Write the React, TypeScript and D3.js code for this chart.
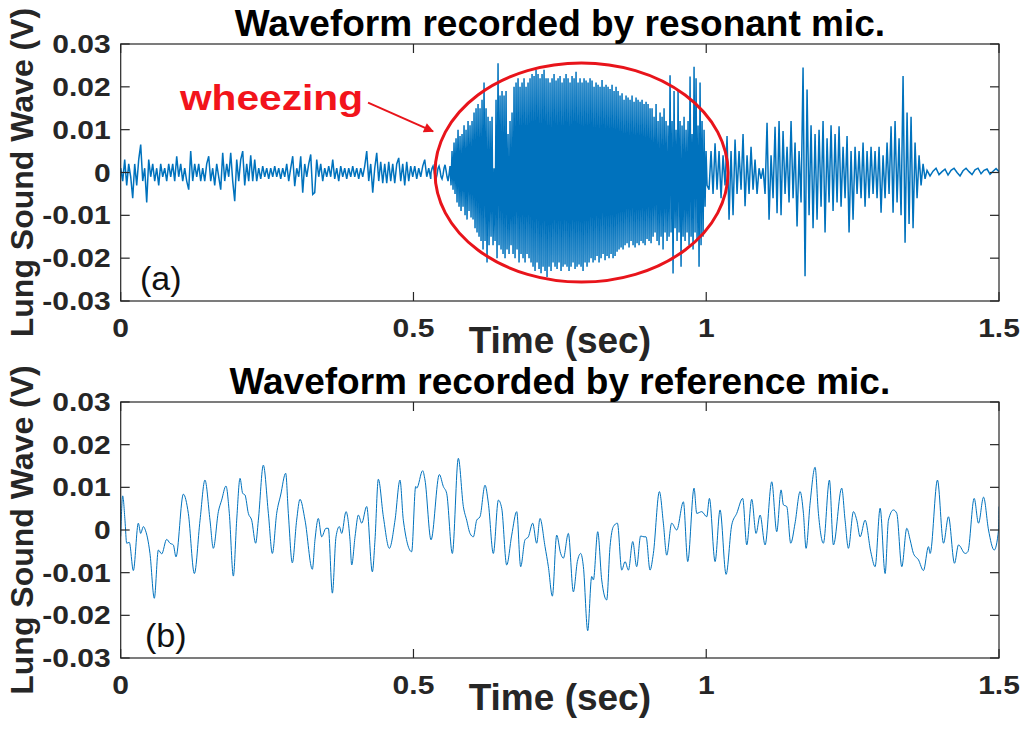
import React from "react";
import * as d3 from "d3";

// ---------- axis / text data ----------
const X_TICKS = [0, 0.5, 1, 1.5];
const X_TICK_LABELS = ["0", "0.5", "1", "1.5"];
const Y_TICKS = [0.03, 0.02, 0.01, 0, -0.01, -0.02, -0.03];
const Y_TICK_LABELS = ["0.03", "0.02", "0.01", "0", "-0.01", "-0.02", "-0.03"];
const TITLE_TOP = "Waveform recorded by resonant mic.";
const TITLE_BOTTOM = "Waveform recorded by reference mic.";
const X_LABEL = "Time (sec)";
const Y_LABEL = "Lung Sound Wave (V)";

// ---------- resonant mic (top) : sampled segments, values in mV ----------
// segment A: background breath noise, start 0 s, step 3.416 ms
const resA_start = 0;
const resA_step = 0.003416;
const resA_mV = [
  1, -2, 3, -3, 2, -1, -6, 2, -3, 3,
  6.5, -2, 1, -7, 3, -1, 2, -2, 1, -3,
  2, -1, 1, -2, 2, -1, 2, -2, 3.8, -1,
  2, -2, 1, -2, -4, 5, -2, 2, -1, 2,
  -2, 1, -2, 2, 3.8, -2, 1, -3, 2, -1,
  -4, 4.6, -2, 2, -1, 4.6, -2, -6.7, 3, -2,
  3, 5, -3, 2, -2, 4, -2, 3, -2, 1,
  -1.5, 1.5, -1, 1, -1.5, 1, -1, 1.5, -1, 1,
  -1.5, 1, -1, 2, -2, 1, 3.8, -3.2, 1, -1,
  3.8, -4.7, 2, -1, 2, 4.2, -5.1, -4.7, 3, -1,
  2, -2, 1, -1, 1.5, -1, 3, -1.5, 1, -2,
  1.5, -1, 1, -1.5, 1, -1, 1.5, -1, 1, -1.5,
  1, -1, 1.5, 5, -2, 2, -4.7, 1, 4.6, -2,
  2.5, -2.5, 2, -2.5, 2.5, -2, 2, -2.5, 2, 3.4,
  -2, 2, -3, 2.5, -2, 1.5, -1, 1.5, -1.5, 1,
  -1, 1.5, 3, -1, 1, -1.5,
];
// segment B: onset + wheeze, start 0.53 s, step 1.708 ms
const resB_start = 0.53;
const resB_step = 0.001708;
const resB_mV = [
  0, 1, 1.5, 0.5, -1, -1.5, -0.5, 1, 1.5, 0.5, -1, -1.5, -0.5, 1, 1.8, 0.5, -1, -2, -0.5, 1.5,
  -3, 5, -4, 7, -5,
  8, -7, 10, -8, 8.5, -9, 9, -8,
  11, -10, 10, -11, 12, -9, 11, -10.5, 12, -11,
  14, -13, 15, -14, 16, -15, 15, -16, 17, -18,
  21, -16, 15, -21, 13, -17, 12, -15, 13,
  -17, 1, -16, 17, -20, 25.5, -17, 18, -18, 19, -19, 18, -20, 19, -18,
  9, -19, 12, -17, 14, -19,
  20, -20, 21, -18, 22, -21, 20, -19, 21, -20, 22, -21, 20, -19, 21, -20, 22,
  -21, 23, -22, 22.5, -23, 24, -21, 23, -22.5, 22, -23.5, 23, -22, 24, -23, 22, -24.4, 22,
  -22, 21, -23, 22, -21, 23, -22, 21.5, -22.5, 22,
  -21, 22.5, -23, 21, -22, 22, -21.5, 23, -22, 22,
  -23, 21, -22, 22.5, -21, 22, -22.5, 23.5, -22, 21,
  -21.5, 22, -22, 21, -23, 22, -21, 21.5, -22, 21,
  -21, 22,
  -20, 21.5, -21, 20, -20.5, 21, -19.5, 20.5, -21, 20, -20, 21.6, -19, 20,
  -20.5, 20.5, -19.5, 20, -20, 19.5, -19, 20.5, -20, 19, -19.5, 20, -18.5, 19,
  -18, 18, -17.5, 18.5, -18, 17, -17, 18, -16.5, 17.5, -17.5, 17, -16, 18, -17, 16.5, -17.5,
  17.5, -16.5, 17, -17, 16.5, -16, 17, -16.5, 16, -17, 16.5, -15.5, 16, -16, 15, -16.5, 15,
  -15, 13, -14, 16, -16, 12, -17, 14, -15, 13, -18, 15, -14, 12, -16, 11,
  -15, 22.7, -14, 12, -23.6, 19, -13, 10, -16, 19, -14, 12, -22, 11, -15, 13, -16,
  10, -14, 12, -17, 22.4, -15, 9, -18, 24.7, -14, 22, -16, 11, -22, 21, -17, 12, -15, 10, -8,
  5, -3,
];
// segment C: bursts after the wheeze, start 1.0048 s, step 3.416 ms
const resC_start = 1.0048;
const resC_step = 0.003416;
const resC_mV = [
  -4, 5, -5, 6.8, -4, 5, -6, 4, -3, 8.5, -11, 5,
  -10, 7.7, -5, 5, -4, 9, -7.9, 4, -5, 6, -4, 3, -5,
  1, -1.5, 1,
  -5, 11.6, -11, 4, -6, 10.7, -9.5, 12, -10, 9.7,
  -5, 6, -7, 12, -6, 7, -12.6, 5, -7,
  24.5, -24.2, 19.4, -10,
  11, -13, 9, -11, 10,
  -8, 12, -14, 8, -7, 11, -9, 9,
  -7, 10.8, -8, 6, -6,
  8.5, -14, 5,
  -11, 6, -5, 5, -6, 7, -8, 5, -6,
  6, -5, 5, -6, 6, -9.4, 4, -6, 7, -5,
  10.8, -9.4, 12, -7, 8, -10,
  22.5, -16.4,
  14, -12, 13, -13,
  7, -6, 4, -3, 2, -1.5,
];
// segment D: quiet tail, start 1.3771 s, step 5.124 ms
const resD_start = 1.3771;
const resD_step = 0.005124;
const resD_mV = [
  0.5, -0.8, 0.3, 1, -0.5, 0.2, 0.8, -0.6, 0.5, 1, 0, -0.8, 0.4,
  1, 0.2, -0.5, 0.6, 1, -0.3, 0.5, 0.8, -0.4, 0.3, 0.9, 0.2,
];

// ---------- reference mic (bottom): time (ms) / value (mV) ----------
const refTimeA = [
  0, 3.4, 7.3, 10.2, 14.7, 21.6, 30.1, 34.1, 38.7, 41.5,
  50.0, 57.4, 64.3, 70.0, 78.5, 84.2, 89.9, 94.4, 107.0, 115.5,
  125.8, 135.5, 143.9, 152.5, 158.2, 166.8, 172.4, 179.8, 185.5, 192.4,
  198.1, 203.8, 208.3, 212.3, 218.0, 223.7, 230.5, 235.1, 243.6, 252.2,
  259.0, 266.4, 273.2, 281.8, 286.3, 293.1, 300.5, 306.2, 314.8, 327.3,
  331.8, 337.5, 343.2, 350.6, 354.6, 361.5, 367.7, 373.4, 377.4, 384.8,
  391.6, 394.5, 400.2, 405.9, 411.6, 420.1, 429.8, 434.3, 440.0, 448.6,
  458.8, 468.5, 477.0, 482.7, 496.9, 503.8, 505.5, 515.7, 519.7, 530.0,
  544.2, 551.0, 556.7, 566.4, 576.6, 585.2, 590.9, 596.6, 602.3, 608.0,
  613.6, 622.2, 627.9, 636.4, 645.0, 650.7, 659.2, 667.8, 676.3, 683.1,
  690.5, 696.2, 703.6, 710.4, 716.1, 724.7, 730.4, 737.2,
];
const refValA = [
  -1.5, 8.0, 2.3, -3.1, -2.9, -9.5, 1.6, -0.8, 0.8, 0.2,
  -5.5, -16.0, -4.7, -5.6, -2.2, -3.1, -3.5, -6.3, 8.4, 3.9,
  -10.2, 2.3, 11.7, 2.3, -4.3, 4.3, 7.0, 10.3, 3.9, -10.8,
  2.3, 12.1, 8.6, 8.2, 3.9, 2.3, -3.1, 2.3, 15.2, 3.9,
  -5.5, 3.9, 8.2, 13.3, 3.9, -7.7, 2.3, 7.2, 2.3, -9.2,
  -2.3, 2.7, -1.6, 0.4, 0.4, -14.8, -1.6, 0.8, -0.8, 4.3,
  -2.3, -8.2, -1.6, 3.5, 1.6, 5.5, -9.8, -2.3, 11.9, 3.1,
  -4.3, 2.3, 11.7, 2.3, -5.1, 10.2, 9.8, 13.9, 11.7, -2.3,
  13.0, 10.2, 8.6, -5.5, 16.8, 5.5, 2.3, -0.8, -1.6, 2.3,
  3.1, 10.5, 6.3, -5.5, 7.0, 5.1, -8.2, -1.2, 4.3, -8.6,
  -2.3, -1.6, 1.6, -3.1, 2.7, -3.9, -8.6, -15.5,
];
const refTimeB = [
  744.6, 751.4, 756.0, 764.5, 773.1, 779.9, 785.6, 790.2, 797.6, 804.4,
  807.3, 814.7, 821.5, 830.0, 835.7, 841.4, 848.3, 855.7, 861.4, 867.1,
  874.5, 881.2, 888.0, 893.7, 897.2, 904.0, 909.7, 920.0, 926.8, 932.5,
  941.0, 949.6, 961.0, 968.4, 979.2, 983.8, 992.3, 1000.9, 1005.4, 1015.1,
  1023.6, 1033.9, 1043.6, 1052.1, 1062.3, 1069.2, 1077.7, 1085.1, 1092.0, 1100.5,
  1111.9, 1120.4, 1127.8, 1131.8, 1137.5, 1144.3, 1151.7, 1160.3, 1166.0, 1170.5,
  1177.4, 1185.9, 1191.6, 1200.1, 1210.4, 1217.2, 1231.4, 1237.1, 1242.8, 1251.4,
  1257.1, 1262.8, 1271.3, 1281.0, 1288.4, 1297.0, 1305.5, 1311.2, 1319.7, 1325.4,
  1334.0, 1342.5, 1348.2, 1353.9, 1362.5, 1371.0, 1379.6, 1382.4, 1394.9, 1405.2,
  1413.7, 1424.0, 1430.8, 1442.2, 1446.8, 1457.6, 1465.0, 1473.6, 1482.1, 1491.8,
  1499.2, 1500,
];
const refValB = [
  -1.2, -5.5, -6.6, -0.8, -14.5, -7.4, -5.5, -8.6, -23.6, -10.9,
  -11.7, -0.4, -11.7, -16.4, -3.9, 0.8, 1.6, -9.4, -7.4, -9.4,
  -2.7, -8.6, -1.4, -1.6, -1.6, -9.4, -5.5, 9.0, 1.6, -5.9,
  1.6, 0.0, 6.6, -7.4, 9.8, 3.9, 4.3, 3.1, 7.4, -7.4,
  4.7, -10.4, 1.2, 3.9, 7.4, -3.5, 7.2, -0.8, 3.5, -3.5,
  11.3, -0.4, 9.4, 5.9, 5.5, -3.1, 1.6, 9.0, 3.9, -4.3,
  6.3, 14.7, 3.9, -3.1, 11.7, -3.5, 9.8, 2.3, -4.3, 4.3,
  2.3, -1.6, 2.3, -5.1, -8.6, 5.1, -10.2, 2.3, 4.7, 3.9,
  -8.6, 0.4, -2.3, -5.5, -7.0, -9.5, -3.9, -5.5, 11.7, -3.1,
  3.1, -7.8, -3.5, -5.5, -5.1, 7.4, 1.6, 7.7, 0.0, -4.7,
  0.0, 5.5,
];

// ---------- annotation data (data units) ----------
const WHEEZE_LABEL = "wheezing";
const WHEEZE_LABEL_POS = { t: 0.1013, v: 0.0147 };
const ARROW_FROM = { t: 0.4224, v: 0.0163 };
const ARROW_TO = { t: 0.5334, v: 0.0096 };
const ELLIPSE = { t: 0.787, v: 0.0, rt: 0.2502, rv: 0.02558 };

// ---------- layout ----------
const W = 1025;
const H = 731;
const ML = 120.7;
const MR = 999;
const FONT = "'Liberation Sans', Arial, Helvetica, sans-serif";
const AX = "#262626";
const LINE = "#0072BD";

type Pt = { t: number; v: number };

function segPoints(start: number, step: number, mv: number[]): Pt[] {
  return mv.map((m, i) => ({ t: start + i * step, v: m / 1000 }));
}

const topPoints: Pt[] = [
  ...segPoints(resA_start, resA_step, resA_mV),
  ...segPoints(resB_start, resB_step, resB_mV),
  ...segPoints(resC_start, resC_step, resC_mV),
  ...segPoints(resD_start, resD_step, resD_mV),
];
const bottomPoints: Pt[] = [
  ...refTimeA.map((t, i) => ({ t: t / 1000, v: refValA[i] / 1000 })),
  ...refTimeB.map((t, i) => ({ t: t / 1000, v: refValB[i] / 1000 })),
];

const x = d3.scaleLinear().domain([0, 1.5]).range([ML, MR]);

function Panel(props: {
  y0: number;
  y1: number;
  title: string;
  tag: string;
  tagX: number;
  points: Pt[];
  curve: d3.CurveFactory;
  lw: number;
  id: string;
  children?: React.ReactNode;
}) {
  const { y0, y1, title, tag, tagX, points, curve, lw, id } = props;
  const y = d3.scaleLinear().domain([-0.03, 0.03]).range([y1, y0]);
  const line = d3
    .line<Pt>()
    .x((d) => x(d.t))
    .y((d) => y(d.v))
    .curve(curve);
  const tl = 9;
  return (
    <g>
      <defs>
        <clipPath id={id}>
          <rect x={ML} y={y0} width={MR - ML} height={y1 - y0} />
        </clipPath>
      </defs>
      <path
        d={line(points) || ""}
        fill="none"
        stroke={LINE}
        strokeWidth={lw}
        clipPath={`url(#${id})`}
      />
      {/* box */}
      <rect x={ML} y={y0} width={MR - ML} height={y1 - y0} fill="none" stroke={AX} strokeWidth={1.2} />
      {/* ticks */}
      {X_TICKS.map((t) => (
        <g key={"xt" + t}>
          <line x1={x(t)} x2={x(t)} y1={y1} y2={y1 - tl} stroke={AX} strokeWidth={1.2} />
          <line x1={x(t)} x2={x(t)} y1={y0} y2={y0 + tl} stroke={AX} strokeWidth={1.2} />
        </g>
      ))}
      {Y_TICKS.map((v) => (
        <g key={"yt" + v}>
          <line x1={ML} x2={ML + tl} y1={y(v)} y2={y(v)} stroke={AX} strokeWidth={1.2} />
          <line x1={MR} x2={MR - tl} y1={y(v)} y2={y(v)} stroke={AX} strokeWidth={1.2} />
        </g>
      ))}
      {/* tick labels */}
      {Y_TICKS.map((v, i) => (
        <text
          key={"yl" + v}
          transform={`translate(${ML - 10},${y(v) + 9}) scale(1.2,1)`}
          textAnchor="end"
          fontSize={25}
          fontWeight="bold"
          fontFamily={FONT}
          fill={AX}
        >
          {Y_TICK_LABELS[i]}
        </text>
      ))}
      {X_TICKS.map((t, i) => (
        <text
          key={"xl" + t}
          transform={`translate(${x(t)},${y1 + 36}) scale(1.2,1)`}
          textAnchor="middle"
          fontSize={25}
          fontWeight="bold"
          fontFamily={FONT}
          fill={AX}
        >
          {X_TICK_LABELS[i]}
        </text>
      ))}
      {/* axis labels */}
      <text
        x={(ML + MR) / 2}
        y={y1 + 52}
        textAnchor="middle"
        fontSize={37}
        fontWeight="bold"
        fontFamily={FONT}
        fill={AX}
      >
        {X_LABEL}
      </text>
      <text
        transform={`translate(33,${(y0 + y1) / 2}) rotate(-90)`}
        textAnchor="middle"
        fontSize={32}
        fontWeight="bold"
        fontFamily={FONT}
        fill={AX}
      >
        {Y_LABEL}
      </text>
      {/* title */}
      <text
        x={(ML + MR) / 2}
        y={y0 - 8}
        textAnchor="middle"
        fontSize={37}
        fontWeight="bold"
        fontFamily={FONT}
        fill="#000"
      >
        {title}
      </text>
      {/* panel tag */}
      <text x={tagX} y={y1 - 11} fontSize={34} fontFamily={FONT} fill="#111">
        {tag}
      </text>
      {props.children}
    </g>
  );
}

function Annotations({ y0, y1 }: { y0: number; y1: number }) {
  const y = d3.scaleLinear().domain([-0.03, 0.03]).range([y1, y0]);
  const rx = x(ELLIPSE.rt) - x(0);
  const ry = y(0) - y(ELLIPSE.rv);
  return (
    <g>
      <defs>
        <marker
          id="arrowHead"
          viewBox="0 0 10 10"
          refX="9"
          refY="5"
          markerWidth="6"
          markerHeight="5"
          orient="auto"
          markerUnits="strokeWidth"
        >
          <path d="M0,0 L10,5 L0,10 z" fill="#e8141b" />
        </marker>
      </defs>
      <ellipse
        cx={x(ELLIPSE.t)}
        cy={y(ELLIPSE.v)}
        rx={rx}
        ry={ry}
        fill="none"
        stroke="#e8141b"
        strokeWidth={3}
      />
      <line
        x1={x(ARROW_FROM.t)}
        y1={y(ARROW_FROM.v)}
        x2={x(ARROW_TO.t)}
        y2={y(ARROW_TO.v)}
        stroke="#e8141b"
        strokeWidth={2}
        markerEnd="url(#arrowHead)"
      />
      <text
        x={x(WHEEZE_LABEL_POS.t)}
        y={y(WHEEZE_LABEL_POS.v)}
        fontSize={35}
        fontWeight="bold"
        fontFamily={FONT}
        fill="#f2141b"
        textLength={183}
        lengthAdjust="spacingAndGlyphs"
      >
        {WHEEZE_LABEL}
      </text>
    </g>
  );
}

export default function App() {
  return (
    <svg
      width={W}
      height={H}
      viewBox={`0 0 ${W} ${H}`}
      style={{ position: "absolute", left: 0, top: 0, background: "#fff" }}
    >
      <rect x={0} y={0} width={W} height={H} fill="#fff" />
      <Panel
        y0={44}
        y1={301}
        title={TITLE_TOP}
        tag="(a)"
        tagX={140}
        points={topPoints}
        curve={d3.curveLinear}
        lw={1.5}
        id="clipTop"
      >
        <Annotations y0={44} y1={301} />
      </Panel>
      <Panel
        y0={402}
        y1={658}
        title={TITLE_BOTTOM}
        tag="(b)"
        tagX={145}
        points={bottomPoints}
        curve={d3.curveMonotoneX}
        lw={1.0}
        id="clipBottom"
      />
    </svg>
  );
}
